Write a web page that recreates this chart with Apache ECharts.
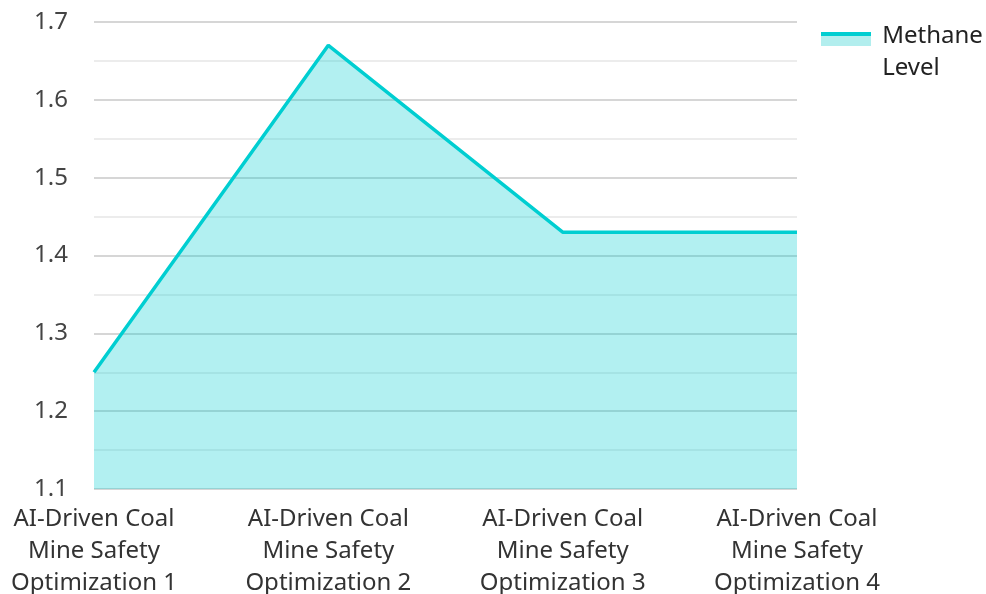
<!DOCTYPE html>
<html>
<head>
<meta charset="utf-8">
<script src="https://cdn.jsdelivr.net/npm/echarts@6/dist/echarts.min.js"></script>
<style>
  html, body { margin: 0; padding: 0; background: #fff; }
  #main { width: 986px; height: 594px; }
</style>
</head>
<body>
<div id="main"></div>
<script>
// chart data
var categories = [
    'AI-Driven Coal Mine Safety Optimization 1',
    'AI-Driven Coal Mine Safety Optimization 2',
    'AI-Driven Coal Mine Safety Optimization 3',
    'AI-Driven Coal Mine Safety Optimization 4'
];
var methaneLevel = [1.25, 1.67, 1.43, 1.43];
var seriesName = 'Methane Level';
var yTicks = { min: 1.1, max: 1.7, step: 0.1 };

var lineColor = '#00CED1';
var font = 'Noto Sans';

var myChart = echarts.init(document.getElementById('main'));
var option = {
    animation: false,
    backgroundColor: '#fff',
    grid: { left: 94, right: 189, top: 22, bottom: 105, containLabel: false, outerBoundsMode: 'none' },
    legend: {
        data: [seriesName],
        orient: 'vertical',
        left: 821,
        top: -6,
        padding: 0,
        itemWidth: 50,
        itemHeight: 14,
        icon: 'rect',
        // short empty first line keeps "Methane" level with the icon
        formatter: function (name) {
            var parts = name.split(' ');
            return '{e| }\n{a| ' + parts[0] + '}\n{a| ' + parts[1] + '}';
        },
        itemStyle: {
            color: new echarts.graphic.LinearGradient(0, 0, 0, 1, [
                { offset: 0, color: lineColor },
                { offset: 0.27, color: lineColor },
                { offset: 0.27, color: '#b2eeee' },
                { offset: 1, color: '#b2eeee' }
            ]),
            borderWidth: 0
        },
        textStyle: {
            fontFamily: font,
            fontSize: 24,
            color: '#222',
            lineHeight: 32,
            rich: {
                e: { fontFamily: font, fontSize: 24, lineHeight: 26 },
                a: { fontFamily: font, fontSize: 24, lineHeight: 32, color: '#222' }
            }
        }
    },
    xAxis: {
        type: 'category',
        data: categories,
        boundaryGap: false,
        axisLine: { show: false },
        axisTick: { show: false },
        axisLabel: {
            fontFamily: font,
            fontSize: 24,
            color: '#333',
            lineHeight: 32,
            margin: 14,
            interval: 0,
            formatter: function (v) {
                return v.replace(' Mine', '\nMine').replace(' Optimization', '\nOptimization');
            }
        }
    },
    yAxis: {
        type: 'value',
        min: yTicks.min,
        max: yTicks.max,
        interval: yTicks.step,
        axisLine: { show: false },
        axisTick: { show: false },
        axisLabel: {
            fontFamily: font,
            fontSize: 24,
            color: '#444',
            margin: 26,
            formatter: function (v) { return v.toFixed(1); }
        },
        splitLine: { lineStyle: { color: '#c8c8c8', width: 1.5 } },
        minorTick: { show: false, splitNumber: 2 },
        minorSplitLine: { show: true, lineStyle: { color: '#e6e6e6', width: 1.5 } }
    },
    series: [
        {
            name: seriesName,
            type: 'line',
            data: methaneLevel,
            showSymbol: false,
            symbol: 'none',
            lineStyle: { color: lineColor, width: 3.5 },
            itemStyle: { color: lineColor },
            areaStyle: { color: lineColor, opacity: 0.3, origin: 'start' }
        }
    ]
};
myChart.setOption(option);
</script>
</body>
</html>
